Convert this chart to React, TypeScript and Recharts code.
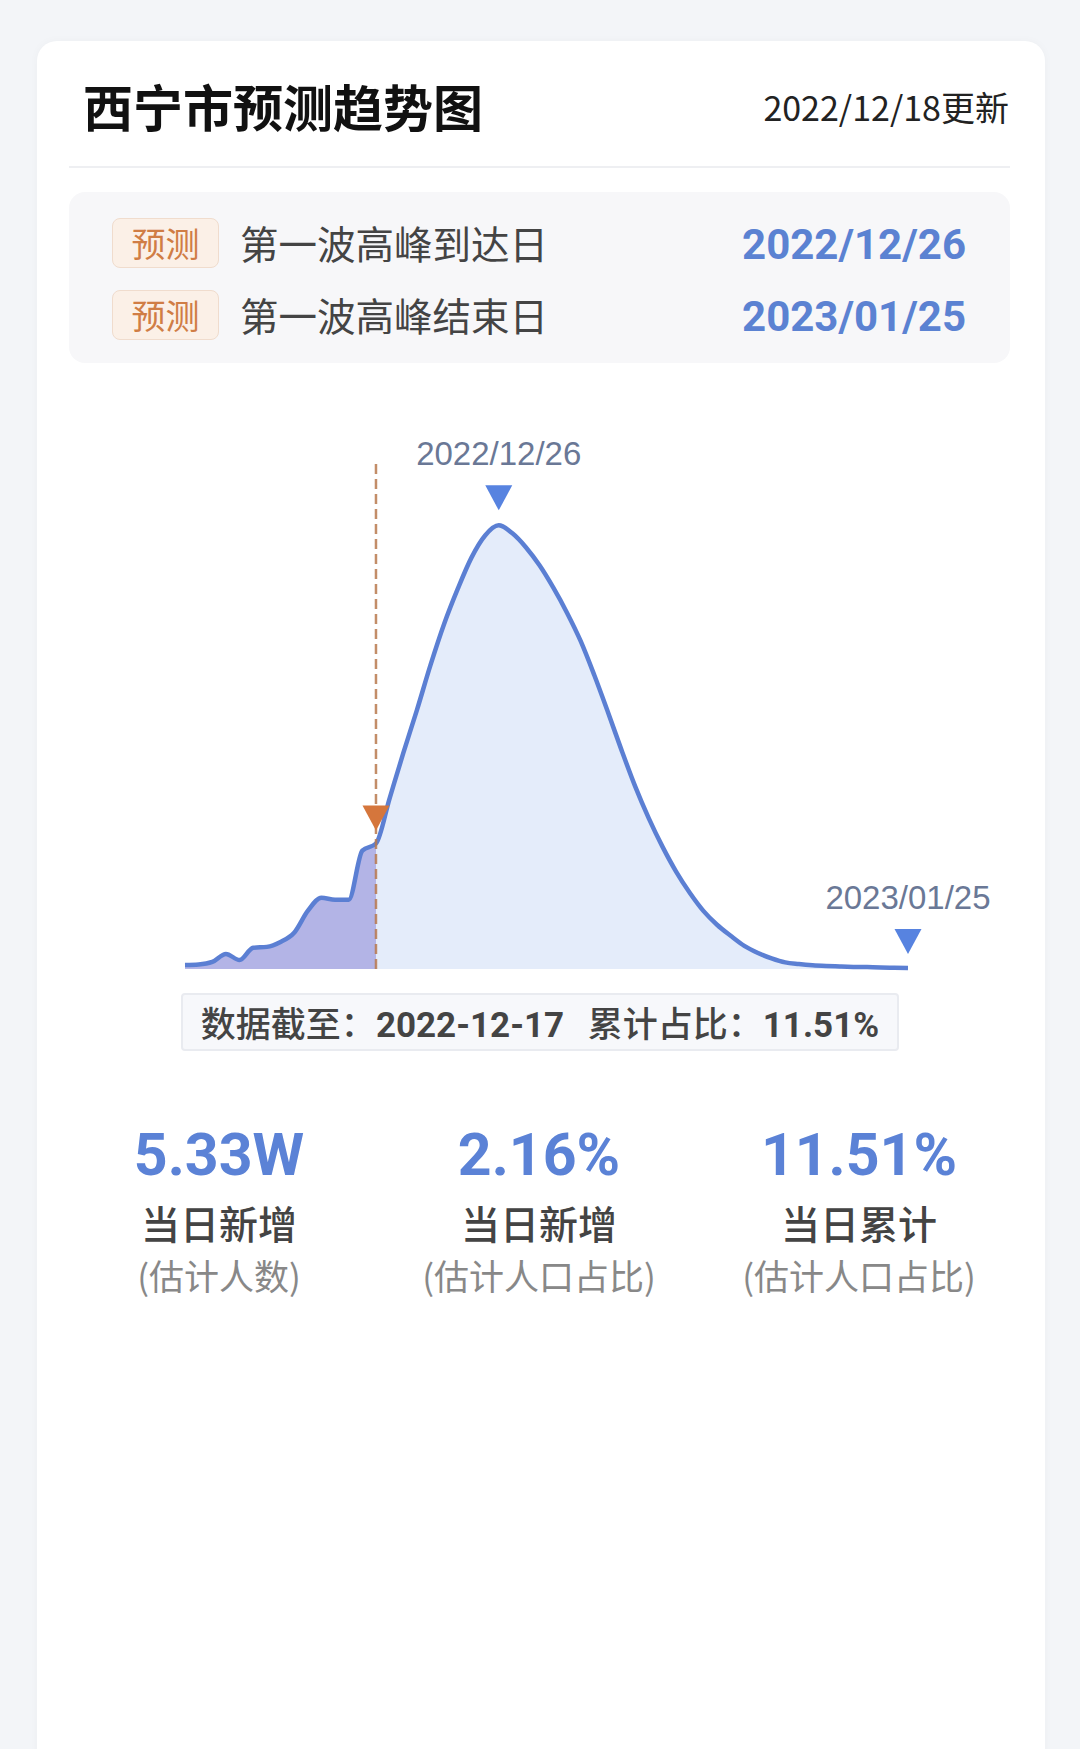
import { ComposedChart, Area, XAxis, YAxis, ReferenceLine, ReferenceDot } from "recharts";

// daily points, 2022-12-03 .. 2023-01-25
const DATES = [
  "12/03", "12/04", "12/05", "12/06", "12/07", "12/08", "12/09", "12/10", "12/11", "12/12",
  "12/13", "12/14", "12/15", "12/16", "12/17", "12/18", "12/19", "12/20", "12/21", "12/22",
  "12/23", "12/24", "12/25", "12/26", "12/27", "12/28", "12/29", "12/30", "12/31", "01/01",
  "01/02", "01/03", "01/04", "01/05", "01/06", "01/07", "01/08", "01/09", "01/10", "01/11",
  "01/12", "01/13", "01/14", "01/15", "01/16", "01/17", "01/18", "01/19", "01/20", "01/21",
  "01/22", "01/23", "01/24", "01/25",
];

// estimated daily new infections (万人)
const DAILY_NEW = [
  0.17, 0.19, 0.3, 0.64, 0.38, 0.9, 0.94, 1.15, 1.54, 2.47,
  3.03, 2.94, 2.94, 5.03, 5.33, 7.25, 9.17, 11.0, 12.92, 14.67,
  16.16, 17.48, 18.42, 18.85, 18.51, 17.91, 17.14, 16.2, 15.14, 13.94,
  12.49, 10.92, 9.3, 7.76, 6.4, 5.2, 4.14, 3.24, 2.47, 1.88,
  1.41, 0.98, 0.68, 0.45, 0.28, 0.21, 0.16, 0.13, 0.11, 0.09,
  0.08, 0.06, 0.05, 0.04,
];

const CUTOFF = "12/17";
const PEAK = "12/26";
const END = "01/25";
const PEAK_LABEL = "2022/12/26";
const END_LABEL = "2023/01/25";

const FORECAST_ROWS = ["第一波高峰到达日", "第一波高峰结束日"];
const FORECAST_DATES = ["2022/12/26", "2023/01/25"];

const STAT_VALUES = ["5.33W", "2.16%", "11.51%"];
const STAT_TITLES = ["当日新增", "当日新增", "当日累计"];
const STAT_NOTES = ["(估计人数)", "(估计人口占比)", "(估计人口占比)"];

const BLUE = "#5b7fd3";
const ORANGE = "#d5763c";
const CJK = '"Noto Sans CJK SC", sans-serif';
const NUM = 'Roboto, "Noto Sans CJK SC", sans-serif';

const data = DATES.map((d, i) => ({ date: d, v: DAILY_NEW[i] }));
const cutIdx = DATES.indexOf(CUTOFF);
const splitAt = cutIdx / (DATES.length - 1);

const marker = (color: string, gap: number, label?: string) => (props: any) => {
  const { cx, cy } = props;
  const tip = cy - gap;
  const w = 27;
  const h = 25;
  return (
    <g>
      <path d={`M${cx - w / 2},${tip - h}L${cx + w / 2},${tip - h}L${cx},${tip}Z`} fill={color} />
      {label && (
        <text
          x={cx}
          y={tip - h - 20}
          textAnchor="middle"
          fontSize={33}
          fill="#6a7896"
          fontFamily='"Liberation Sans", Arial, sans-serif'
        >
          {label}
        </text>
      )}
    </g>
  );
};

export default function App() {
  return (
    <div
      style={{
        position: "absolute",
        left: 0,
        top: 0,
        width: 1080,
        height: 1749,
        overflow: "hidden",
        background: "#f3f5f8",
        fontFamily: CJK,
      }}
    >
      <div
        style={{
          position: "absolute",
          left: 37,
          top: 41,
          width: 1008,
          height: 1760,
          background: "#fff",
          borderRadius: 20,
          boxShadow: "0 0 10px rgba(0,0,0,0.03)",
        }}
      />

      <div style={{ position: "absolute", left: 83, top: 77, fontSize: 50, fontWeight: 700, lineHeight: "56px", color: "#111" }}>
        西宁市预测趋势图
      </div>
      <div style={{ position: "absolute", right: 71, top: 87, fontSize: 34, lineHeight: "40px", color: "#222" }}>
        2022/12/18更新
      </div>
      <div style={{ position: "absolute", left: 69, top: 166, width: 941, height: 2, background: "#eeeff2" }} />

      <div style={{ position: "absolute", left: 69, top: 192, width: 941, height: 171, background: "#f7f7f9", borderRadius: 16 }} />
      {FORECAST_ROWS.map((t, i) => {
        const cy = 243 + i * 72;
        return (
          <div key={t}>
            <div
              style={{
                position: "absolute",
                left: 112,
                top: cy - 25,
                width: 105,
                height: 48,
                borderRadius: 8,
                background: "#fbf0e7",
                border: "1px solid #f0dccd",
                color: "#d07d45",
                fontSize: 34,
                lineHeight: "48px",
                textAlign: "center",
              }}
            >
              预测
            </div>
            <div style={{ position: "absolute", left: 240, top: cy - 25, fontSize: 38.5, lineHeight: "48px", color: "#444" }}>{t}</div>
            <div
              style={{
                position: "absolute",
                right: 1080 - 966,
                top: cy - 22,
                fontSize: 42,
                fontWeight: 700,
                lineHeight: "48px",
                color: "#5b82d2",
                fontFamily: NUM,
              }}
            >
              {FORECAST_DATES[i]}
            </div>
          </div>
        );
      })}

      <div style={{ position: "absolute", left: 0, top: 0 }}>
        <ComposedChart width={1080} height={1000} data={data} margin={{ top: 463, left: 185, right: 172, bottom: 31 }}>
          <defs>
            <linearGradient id="splitFill" x1="0" y1="0" x2="1" y2="0">
              <stop offset={0} stopColor="#b3b4e6" />
              <stop offset={splitAt} stopColor="#b3b4e6" />
              <stop offset={splitAt} stopColor="#e4ecfa" />
              <stop offset={1} stopColor="#e4ecfa" />
            </linearGradient>
          </defs>
          <XAxis dataKey="date" hide />
          <YAxis domain={[0, 21.5]} hide />
          <Area
            type="monotone"
            dataKey="v"
            stroke={BLUE}
            strokeWidth={4.5}
            fill="url(#splitFill)"
            fillOpacity={1}
            dot={false}
            activeDot={false}
            isAnimationActive={false}
          />
          <ReferenceLine x={CUTOFF} stroke="#b9794e" strokeOpacity={0.85} strokeWidth={2.5} strokeDasharray="10 5" />
          <ReferenceDot x={CUTOFF} y={DAILY_NEW[cutIdx]} shape={marker(ORANGE, 13)} />
          <ReferenceDot x={PEAK} y={DAILY_NEW[DATES.indexOf(PEAK)]} shape={marker("#5783e0", 15, PEAK_LABEL)} />
          <ReferenceDot x={END} y={DAILY_NEW[DATES.indexOf(END)]} shape={marker("#5783e0", 14, END_LABEL)} />
        </ComposedChart>
      </div>

      <div
        style={{
          position: "absolute",
          left: 181,
          top: 993,
          width: 714,
          height: 54,
          background: "#f7f8fb",
          border: "2px solid #e9ebf0",
          borderRadius: 4,
          fontSize: 35,
          lineHeight: "54px",
          color: "#444",
          textAlign: "center",
          fontWeight: 500,
          whiteSpace: "pre",
        }}
      >
        数据截至：<b style={{ fontFamily: NUM }}>2022-12-17</b>{"   "}累计占比：<b style={{ fontFamily: NUM }}>11.51%</b>
      </div>

      {STAT_VALUES.map((v, i) => {
        const cx = 219 + i * 320;
        return (
          <div key={i} style={{ position: "absolute", left: cx - 160, top: 1119, width: 320, textAlign: "center" }}>
            <div style={{ fontFamily: NUM, fontWeight: 700, fontSize: 59, lineHeight: "72px", color: "#5b82d6" }}>{v}</div>
            <div style={{ fontSize: 39, fontWeight: 500, lineHeight: "56px", color: "#444", marginTop: 3 }}>{STAT_TITLES[i]}</div>
            <div style={{ fontSize: 35, lineHeight: "50px", color: "#888", marginTop: 0 }}>{STAT_NOTES[i]}</div>
          </div>
        );
      })}
    </div>
  );
}
